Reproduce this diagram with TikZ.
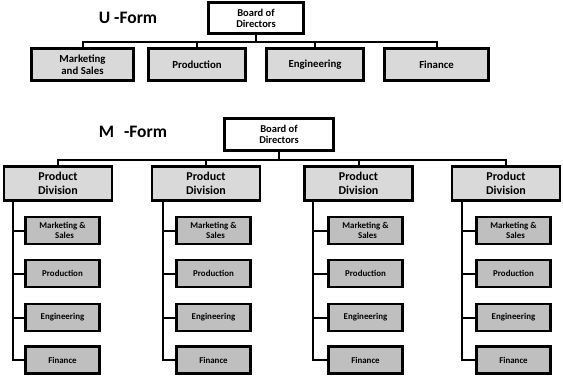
\documentclass[tikz,border=0pt]{standalone}
\usepackage{fontspec}
\setmainfont{Carlito}
\begin{document}
\begin{tikzpicture}[x=1pt,y=-1pt,
  box/.style={draw=black, line width=2.6pt, rectangle, inner sep=0pt, align=center, font=\bfseries},
  bod/.style={box, fill=white, minimum width=95pt, minimum height=31pt, font=\bfseries\fontsize{10.5}{11}\selectfont},
  ubox/.style={box, fill=black!15, minimum height=32pt, font=\bfseries\fontsize{10.8}{11.8}\selectfont},
  pdbox/.style={box, fill=black!15, minimum width=108pt, minimum height=34pt, font=\bfseries\fontsize{12}{13.5}\selectfont},
  sbox/.style={box, fill=black!25, minimum width=74pt, minimum height=27pt, font=\bfseries\fontsize{8.9}{9.6}\selectfont},
  link/.style={draw=black, line width=2pt},
  title/.style={font=\bfseries\fontsize{17.5}{18}\selectfont}
]
\useasboundingbox (0,0) rectangle (563,376);

% ---------- U-Form ----------
\node[title] (ut) at (128,18) {U -Form};
\node[bod] (ub) at (256,18) {Board of\\Directors};
\node[ubox, minimum width=102pt] (u1) at (82.5,64.5) {Marketing\\and Sales};
\node[ubox, minimum width=97pt] (u2) at (197,64.5) {Production};
\node[ubox, minimum width=97pt] (u3) at (315,64.5) {Engineering};
\node[ubox, minimum width=104pt] (u4) at (436.5,64.5) {Finance};
\coordinate (ubus) at (256,42);
\draw[link] (ub.south) -- (ubus);
\foreach \i in {1,...,4} {\draw[link] (ubus) -| (u\i.north);}

% ---------- M-Form ----------
\node[title] (mt) at (133,132) {M\,\, -Form};
\node[bod, minimum width=109pt, minimum height=32pt] (mb) at (279,134.5) {Board of\\Directors};
\coordinate (mbus) at (279,160);
\draw[link] (mb.south) -- (mbus);

\foreach \i/\px/\vx/\sx in {1/58/12.5/62.5, 2/206/163/213.5, 3/358.5/313/365.5, 4/506/462/513.5} {
  \node[pdbox] (p\i) at (\px,183.5) {Product\\Division};
  \draw[link] (mbus) -| (p\i.north);
  \node[sbox] (s\i a) at (\sx,230.5) {Marketing \&\\\ \ Sales};
  \node[sbox] (s\i b) at (\sx,273.5) {Production};
  \node[sbox] (s\i c) at (\sx,317.5) {Engineering};
  \node[sbox] (s\i d) at (\sx,360) {Finance};
  \coordinate (v\i) at (\vx,200);
  \draw[link] (v\i) |- (s\i a.west);
  \draw[link] (v\i) |- (s\i b.west);
  \draw[link] (v\i) |- (s\i c.west);
  \draw[link] (v\i) |- (s\i d.west);
}
\end{tikzpicture}
\end{document}
